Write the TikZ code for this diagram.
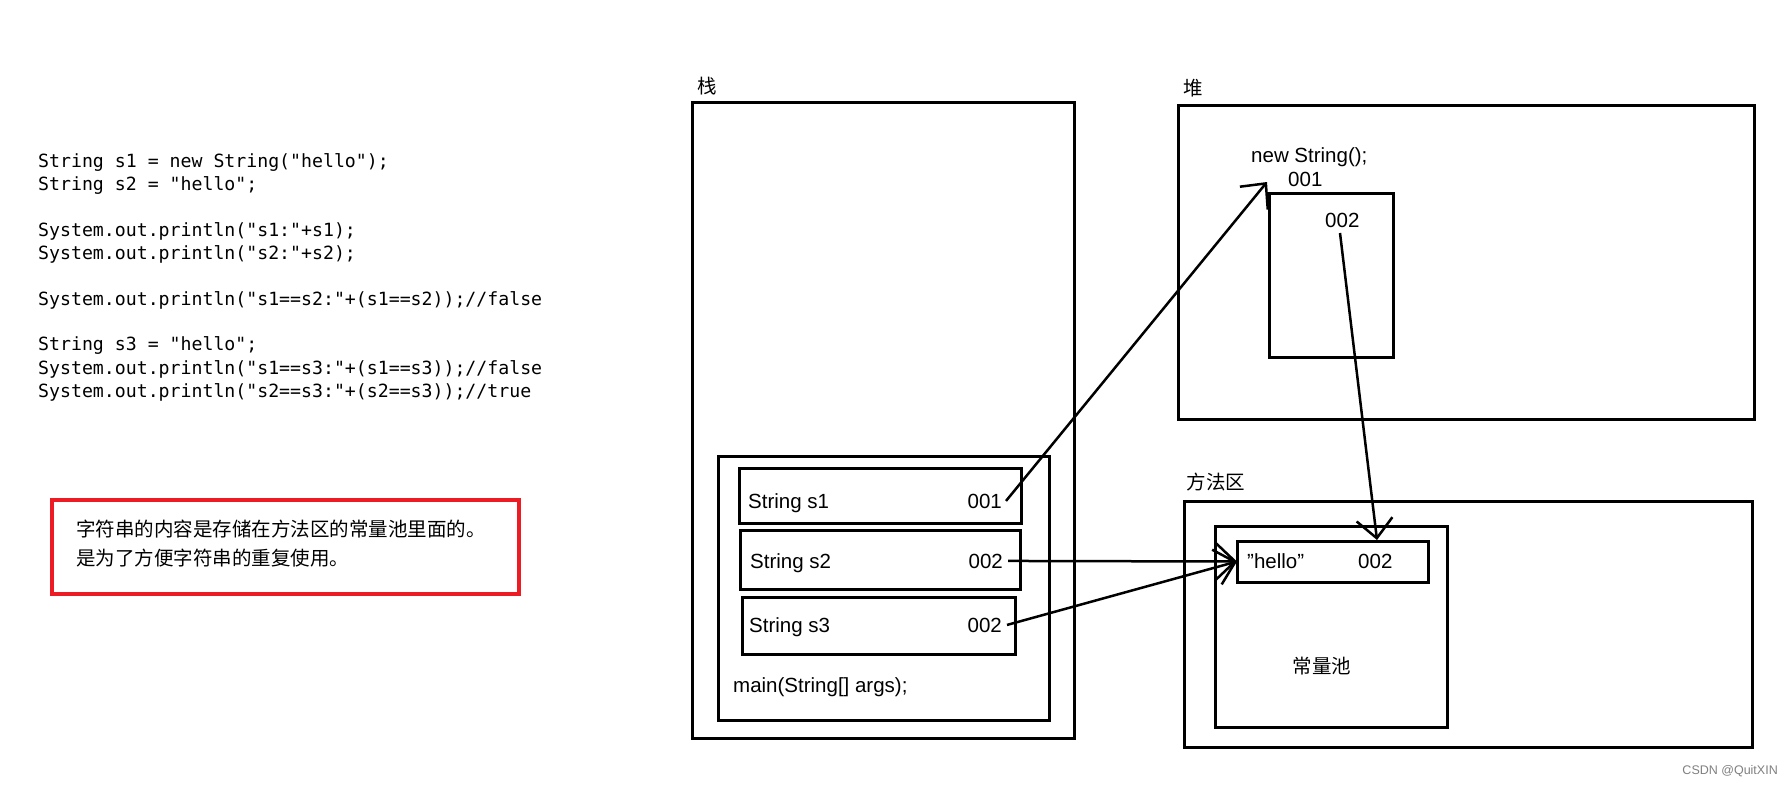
\documentclass[tikz,border=0pt]{standalone}
\usepackage{fontspec}
\setmainfont{Liberation Sans}
\setmonofont{DejaVu Sans Mono}
\newfontfamily\cjk{Noto Sans CJK SC}
\usetikzlibrary{arrows.meta}
\definecolor{paintred}{HTML}{ED1C24}
\begin{document}
\begin{tikzpicture}[x=1pt,y=-1pt,
 box/.style={draw, line width=3pt, inner sep=0pt, outer sep=0pt, anchor=north west},
 lbl/.style={inner sep=0pt, anchor=base west, font=\fontsize{20.5}{24}\selectfont},
 zh/.style={inner sep=0pt, font=\cjk\fontsize{19.5}{22}\selectfont},
 zhr/.style={inner sep=0pt, anchor=west, font=\cjk\fontsize{19.5}{24}\selectfont},
 code/.style={inner sep=0pt, anchor=base west, font=\ttfamily\fontsize{18.2}{23}\selectfont},
 conn/.style={line width=2.5pt, -{Straight Barb[length=19pt,width=36pt,line width=2.5pt]}}]
\useasboundingbox (0,0) rectangle (1791,787);
\fill[white] (0,0) rectangle (1791,787);

% code
\node[code] (c1) at (38,167) {String s1 = new String("hello");};
\node[code] (c2) at (38,190) {String s2 = "hello";};
\node[code] (c3) at (38,236) {System.out.println("s1:"+s1);};
\node[code] (c4) at (38,259) {System.out.println("s2:"+s2);};
\node[code] (c5) at (38,305) {System.out.println("s1==s2:"+(s1==s2));//false};
\node[code] (c6) at (38,350) {String s3 = "hello";};
\node[code] (c7) at (38,374) {System.out.println("s1==s3:"+(s1==s3));//false};
\node[code] (c8) at (38,397) {System.out.println("s2==s3:"+(s2==s3));//true};

% note
\node[box, draw=paintred, line width=4pt, minimum width=467pt, minimum height=94pt] (note) at (52,500) {};
\node[zhr] (z1) at (76,529) {字符串的内容是存储在方法区的常量池里面的。};
\node[zhr] (z2) at (76,558) {是为了方便字符串的重复使用。};

% stack
\node[zh] (stacklbl) at (707,86) {栈};
\node[box, minimum width=382pt, minimum height=636pt] (stack) at (692,102) {};
\node[box, minimum width=331pt, minimum height=264pt] (mainf) at (718,456) {};
\node[box, minimum width=282pt, minimum height=55pt] (b1) at (739,468) {};
\node[box, minimum width=280pt, minimum height=59pt] (b2) at (740,530) {};
\node[box, minimum width=273pt, minimum height=57pt] (b3) at (742,597) {};
\node[lbl] (n1) at (748,508) {String s1};
\node[lbl, anchor=base east] (v1) at (1002,508) {001};
\node[lbl] (n2) at (750,568) {String s2};
\node[lbl, anchor=base east] (v2) at (1003,568) {002};
\node[lbl] (n3) at (749,632) {String s3};
\node[lbl, anchor=base east] (v3) at (1002,632) {002};
\node[lbl] (mn) at (733,692) {main(String[] args);};

% heap
\node[zh] (heaplbl) at (1193,88) {堆};
\node[box, minimum width=576pt, minimum height=314pt] (heap) at (1178,105) {};
\node[box, minimum width=124pt, minimum height=164pt] (obj) at (1269,193) {};
\node[lbl] (ns) at (1251,162) {new String();};
\node[lbl] (h1) at (1288,186) {001};
\node[lbl] (h2) at (1325,227) {002};

% method area
\node[zh] (methlbl) at (1216,482) {方法区};
\node[box, minimum width=568pt, minimum height=246pt] (meth) at (1184,501) {};
\node[box, minimum width=232pt, minimum height=201pt] (pool) at (1215,526) {};
\node[box, minimum width=191pt, minimum height=41pt] (hello) at (1237,541) {};
\node[lbl] (hs) at (1247,568) {"hello"};
\node[lbl] (hv) at (1358,568) {002};
\node[zh] (poollbl) at (1322,666) {常量池};

% watermark
\node[inner sep=0pt, anchor=east, text=gray, font=\fontsize{12.5}{14}\selectfont] (wm) at (1778,771) {CSDN @QuitXIN};

% connectors
\coordinate (t1) at (1267,182);
\coordinate (t3) at (1377,540);
\coordinate (s4) at (1340,233);
\draw[conn] ([xshift=4pt]v1.east) -- (t1);
\draw[conn] ([xshift=5pt]v2.east) -- (hello.west);
\draw[conn] ([xshift=5pt]v3.east) -- (hello.west);
\draw[conn] (s4) -- (t3);
\end{tikzpicture}
\end{document}
